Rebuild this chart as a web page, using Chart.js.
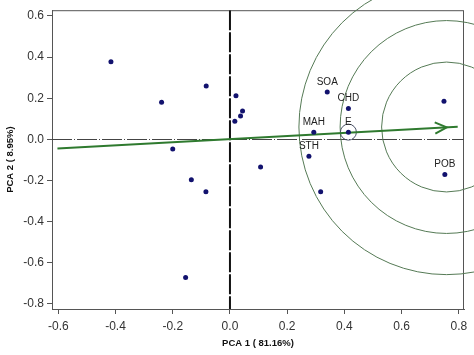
<!DOCTYPE html>
<html>
<head>
<meta charset="utf-8">
<script src="https://cdn.jsdelivr.net/npm/chart.js@4.4.1/dist/chart.umd.min.js"></script>
<style>
html,body{margin:0;padding:0;background:#fff;overflow:hidden;}
canvas{display:block;}
</style>
</head>
<body>
<canvas id="c" width="474" height="355"></canvas>
<script>
// ---- data ----
const pcaX = [-0.416, -0.239, -0.083, 0.021, 0.017, -0.200, -0.135, 0.044, 0.037, 0.340, 0.414, 0.293, 0.414, 0.276, 0.107, 0.748, 0.751, -0.084, -0.155, 0.317];
const pcaY = [0.377, 0.180, 0.259, 0.212, 0.088, -0.047, -0.197, 0.138, 0.113, 0.230, 0.150, 0.035, 0.035, -0.082, -0.135, 0.185, -0.171, -0.255, -0.672, -0.255];
const pointLabels = ['', '', '', '', '', '', '', '', '', 'SOA', 'CHD', 'MAH', 'E', 'STH', '', '', 'POB', '', '', ''];
const arrowX = [-0.603, 0.796];
const arrowY = [-0.045, 0.061];
const ringCenter = [0.757, 0.060];
const ringRadii = [0.227, 0.372, 0.516];
const markerX = [0.414];
const markerY = [0.035];
const xTicks = [-0.6, -0.4, -0.2, 0.0, 0.2, 0.4, 0.6, 0.8];
const yTicks = [-0.8, -0.6, -0.4, -0.2, 0.0, 0.2, 0.4, 0.6];
const xTitle = 'PCA 1 ( 81.16%)';
const yTitle = 'PCA 2 ( 8.95%)';

const FONT = 'Liberation Sans, Arial, sans-serif';

const pts = pcaX.map((x, i) => ({x: x, y: pcaY[i]}));
const arrowPts = arrowX.map((x, i) => ({x: x, y: arrowY[i]}));
const markerPts = markerX.map((x, i) => ({x: x, y: markerY[i]}));

const decor = {
  id: 'decor',
  beforeDatasetsDraw(chart) {
    const {ctx, chartArea: a, scales: {x, y}} = chart;
    ctx.save();
    // box
    ctx.strokeStyle = '#555';
    ctx.lineWidth = 1;
    ctx.strokeRect(a.left + 0.5, a.top + 0.5, a.right - a.left - 1, a.bottom - a.top);
    // zero lines
    ctx.save();
    ctx.beginPath();
    ctx.rect(a.left, a.top, a.right - a.left, a.bottom - a.top);
    ctx.clip();
    const y0 = y.getPixelForValue(0);
    ctx.strokeStyle = '#444';
    ctx.lineWidth = 1;
    ctx.setLineDash([20, 2, 1, 2]);
    ctx.beginPath();
    ctx.moveTo(a.left, Math.round(y0) + 0.5);
    ctx.lineTo(a.right, Math.round(y0) + 0.5);
    ctx.stroke();
    const x0 = x.getPixelForValue(0);
    ctx.strokeStyle = '#111';
    ctx.lineWidth = 2;
    ctx.setLineDash([20, 2]);
    ctx.beginPath();
    ctx.moveTo(x0, a.top);
    ctx.lineTo(x0, a.bottom);
    ctx.stroke();
    ctx.restore();
    // rings (not clipped)
    const cx = x.getPixelForValue(ringCenter[0]);
    const cy = y.getPixelForValue(ringCenter[1]);
    ctx.strokeStyle = '#557a55';
    ctx.lineWidth = 1;
    ctx.setLineDash([]);
    ringRadii.forEach(r => {
      const rp = x.getPixelForValue(ringCenter[0] + r) - cx;
      ctx.beginPath();
      ctx.arc(cx, cy, rp, 0, Math.PI * 2);
      ctx.stroke();
    });
    ctx.restore();
  },
  afterDatasetsDraw(chart) {
    const {ctx} = chart;
    ctx.save();
    // arrow head
    const am = chart.getDatasetMeta(1).data;
    const p0 = am[0], p1 = am[am.length - 1];
    const ang = Math.atan2(p1.y - p0.y, p1.x - p0.x);
    const tipX = p1.x - 11 * Math.cos(ang), tipY = p1.y - 11 * Math.sin(ang);
    ctx.strokeStyle = '#2f7a2f';
    ctx.lineWidth = 2;
    ctx.beginPath();
    const L = 13, spread = 0.45;
    ctx.moveTo(tipX - L * Math.cos(ang - spread), tipY - L * Math.sin(ang - spread));
    ctx.lineTo(tipX, tipY);
    ctx.lineTo(tipX - L * Math.cos(ang + spread), tipY - L * Math.sin(ang + spread));
    ctx.stroke();
    // labels
    const meta = chart.getDatasetMeta(0).data;
    ctx.fillStyle = '#222';
    ctx.font = '10px ' + FONT;
    ctx.textAlign = 'center';
    ctx.textBaseline = 'middle';
    meta.forEach((el, i) => {
      if (pointLabels[i]) ctx.fillText(pointLabels[i], el.x, el.y - 10);
    });
    ctx.restore();
  }
};

const fixTicks = arr => scale => { scale.ticks = arr.map(v => ({value: v})); };

new Chart(document.getElementById('c'), {
  type: 'scatter',
  data: {
    datasets: [
      {data: pts, pointRadius: 2.5, pointHoverRadius: 2.5, backgroundColor: '#12126e', borderColor: '#12126e', borderWidth: 0, order: 1},
      {data: arrowPts, showLine: true, pointRadius: 0, borderColor: '#2f7a2f', borderWidth: 2, clip: false, order: 2},
      {data: markerPts, pointRadius: 8, pointHoverRadius: 8, backgroundColor: 'rgba(0,0,0,0)', borderColor: '#4a5268', borderWidth: 1, order: 3}
    ]
  },
  options: {
    responsive: false,
    animation: false,
    events: [],
    layout: {padding: {top: 8, right: 10, left: 0, bottom: 0}},
    plugins: {legend: {display: false}, tooltip: {enabled: false}},
    scales: {
      x: {
        type: 'linear', min: -0.622, max: 0.818,
        afterBuildTicks: fixTicks(xTicks),
        afterFit: s => { s.height = 46; },
        grid: {drawOnChartArea: false, drawTicks: true, tickLength: 5, color: '#555'},
        border: {display: true, color: '#555'},
        ticks: {color: '#333', padding: 5, font: {family: FONT, size: 12}, callback: v => v.toFixed(1), maxRotation: 0, autoSkip: false},
        title: {display: true, text: xTitle, color: '#111', font: {family: FONT, size: 9.5, weight: 'bold'}, padding: {top: 0, bottom: 6.3}}
      },
      y: {
        type: 'linear', min: -0.825, max: 0.628,
        afterBuildTicks: fixTicks(yTicks),
        afterFit: s => { s.width = 52; },
        grid: {drawOnChartArea: false, drawTicks: true, tickLength: 5, color: '#555'},
        border: {display: true, color: '#555'},
        ticks: {color: '#333', padding: 3, font: {family: FONT, size: 12}, callback: v => v.toFixed(1), autoSkip: false},
        title: {display: true, text: yTitle, color: '#111', font: {family: FONT, size: 9.5, weight: 'bold'}, padding: {top: 4.8, bottom: 0}}
      }
    }
  },
  plugins: [decor]
});
</script>
</body>
</html>
